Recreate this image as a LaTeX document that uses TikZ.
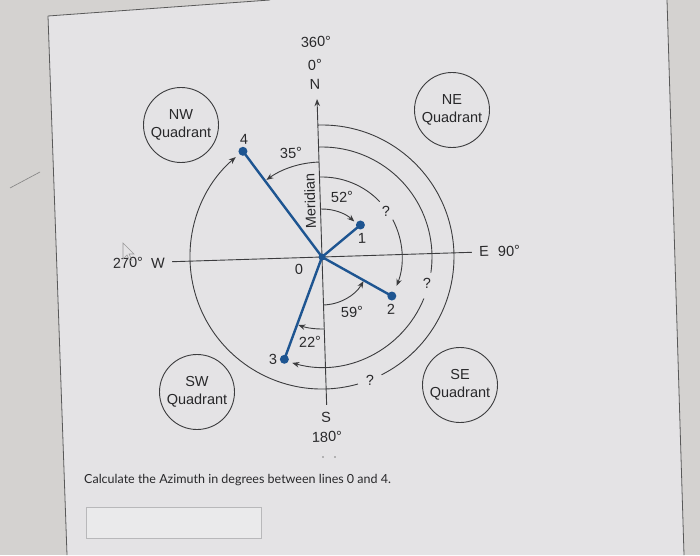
\documentclass[tikz,border=0pt]{standalone}
\usepackage{fontspec}
\setmainfont{Liberation Sans}
\newfontfamily\latofont{Lato}
\usetikzlibrary{arrows.meta}
\definecolor{panel}{RGB}{228,227,229}
\definecolor{outside}{RGB}{212,210,208}
\definecolor{txt}{RGB}{40,40,42}
\definecolor{axc}{RGB}{60,60,62}
\definecolor{blu}{RGB}{30,85,145}
\definecolor{boxfill}{RGB}{234,234,235}
\definecolor{boxline}{RGB}{184,184,186}
\begin{document}
\begin{tikzpicture}[x=1pt,y=1pt,
  lbl/.style={font=\fontsize{14.5}{16}\selectfont, text=txt, inner sep=0pt, rotate=1.8},
  axl/.style={draw=axc, line width=0.9pt},
  arcl/.style={draw=axc, line width=0.9pt},
  arr/.style={-{Stealth[length=7pt,width=5.5pt]}},
  bline/.style={draw=blu, line width=2.4pt},
  dot/.style={circle, fill=blu, inner sep=0pt, minimum size=9pt},
  quad/.style={circle, draw=axc, line width=0.9pt, minimum size=75pt, inner sep=0pt,
    align=center, text=txt, font=\fontsize{14.5}{18}\selectfont},
  frame/.style={draw=gray!70!black, line width=0.8pt}]
\useasboundingbox (0,0) rectangle (700,555);
% background
\fill[outside] (0,0) rectangle (700,555);
\fill[panel] (48,539) -- (270,555) -- (667,555) -- (684,0) -- (67,0) -- cycle;
\draw[frame] (48,539) -- (270,555);
\draw[frame] (48,539) -- (67,0);
\draw[frame] (667,555) -- (684,0);
\draw[gray, line width=0.6pt] (10,367) -- (40,383);

% diagram (slightly rotated, as in the photo)
\begin{scope}[shift={(322,298)}, rotate=1.8]
  \coordinate (O) at (0,0);
  \coordinate (Ntip) at (90:158);
  \coordinate (Send) at (-90:148);
  \coordinate (Wend) at (180:150);
  \coordinate (Eend) at (0:150);
  \draw[axl] (Wend) -- (Eend);
  \draw[axl, arr] (Send) -- (Ntip);
  % outer arc
  \draw[arcl] (O) ++(90:132) arc[start angle=90, end angle=-65, radius=132];
  \draw[arcl, arr] (O) ++(-76:132) arc[start angle=-76, end angle=-231, radius=132];
  % middle arc
  \draw[arcl] (O) ++(90:110) arc[start angle=90, end angle=-10, radius=110];
  \draw[arcl, arr] (O) ++(-24:110) arc[start angle=-24, end angle=-107.5, radius=110];
  % inner arc
  \draw[arcl] (O) ++(90:80) arc[start angle=90, end angle=42, radius=80];
  \draw[arcl, arr] (O) ++(26:80) arc[start angle=26, end angle=-23, radius=80];
  % angle arcs
  \draw[arcl, arr] (O) ++(90:48) arc[start angle=90, end angle=46, radius=48];
  \draw[arcl, arr] (O) ++(-90:48) arc[start angle=-90, end angle=-32, radius=48];
  \draw[arcl, arr] (O) ++(-90:72) arc[start angle=-90, end angle=-111, radius=72];
  \draw[arcl, arr] (O) ++(90:95) arc[start angle=90, end angle=124, radius=95];
  % survey lines
  \node[dot] (p1) at (38:50) {};
  \node[dot] (p2) at (-31:80) {};
  \node[dot] (p3) at (-112:109) {};
  \node[dot] (p4) at (125:132) {};
  \draw[bline] (O) -- (p1.center);
  \draw[bline] (O) -- (p2.center);
  \draw[bline] (O) -- (p3.center);
  \draw[bline] (O) -- (p4.center);
  \node[dot, minimum size=7pt] (p0) at (O) {};
\end{scope}

% labels
\node[lbl] (l360) at (316,513) {360°};
\node[lbl] (l0d) at (315,490) {0°};
\node[lbl] (lN) at (315,471) {N};
\node[lbl, rotate=90] (lmer) at (310,354) {Meridian};
\node[lbl] (l4) at (244,416) {4};
\node[lbl] (l35) at (291,402) {35°};
\node[lbl] (l52) at (342,358) {52°};
\node[lbl] (q1) at (386,344) {?};
\node[lbl] (l1) at (362,317) {1};
\node[lbl] (lo) at (299,286) {0};
\node[lbl] (q2) at (427,272) {?};
\node[lbl] (l2) at (391,246) {2};
\node[lbl] (l59) at (352,243) {59°};
\node[lbl] (l22) at (310,213) {22°};
\node[lbl] (l3) at (273,196) {3};
\node[lbl] (q3) at (370,175) {?};
\node[lbl] (lS) at (326,138) {S};
\node[lbl] (l180) at (327,118) {180°};
\node[lbl] (l270) at (128,292) {270°};
\node[lbl] (lW) at (158,292) {W};
\node[lbl] (lE) at (484,304) {E};
\node[lbl] (l90) at (509,304) {90°};

% quadrant circles
\node[quad] (nw) at (181,430) {NW\\Quadrant};
\node[quad] (ne) at (452,445) {NE\\Quadrant};
\node[quad] (sw) at (197,163) {SW\\Quadrant};
\node[quad] (se) at (460,170) {SE\\Quadrant};

% small dots under 180
\fill[gray] (323,98) circle (0.9pt);
\fill[gray] (335,98) circle (0.9pt);

% cursor
\draw[gray!80, line width=0.6pt] (123,312) -- (123,296) -- (127,300) -- (130,294) -- (132,295) -- (129,301) -- (134,301) -- cycle;

% question text and answer box
\node[anchor=west, inner sep=0pt, text=txt, font=\latofont\fontsize{12.5}{14}\selectfont] (q) at (84,75)
  {Calculate the Azimuth in degrees between lines 0 and 4.};
\node[draw=boxline, fill=boxfill, line width=0.8pt, minimum width=175pt, minimum height=31pt, inner sep=0pt, anchor=south west] (ans) at (86,16) {};
\end{tikzpicture}
\end{document}
